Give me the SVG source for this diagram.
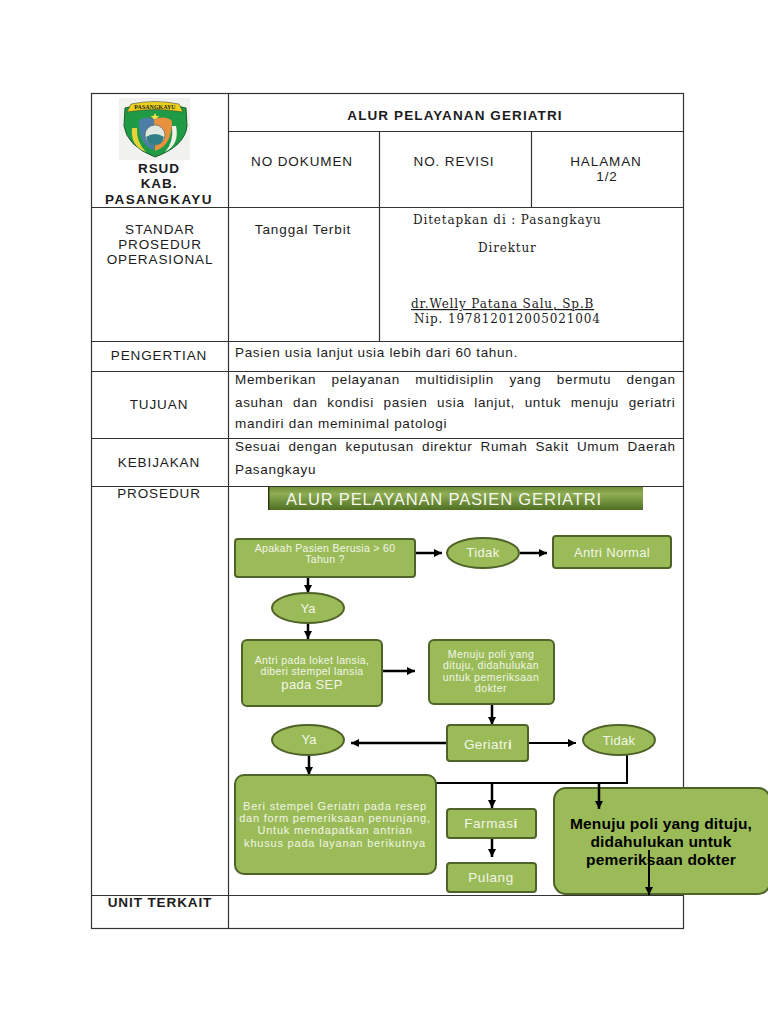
<svg xmlns="http://www.w3.org/2000/svg" width="768" height="1024" viewBox="0 0 768 1024">
<style>
text{font-family:"Liberation Sans",Arial,sans-serif;fill:#1c1c1c}
.t{font-size:13.5px;text-anchor:middle;letter-spacing:.9px}
.l{font-size:13.5px;letter-spacing:.68px}
.b{font-weight:bold}
.s{font-family:"DejaVu Serif",serif;font-size:12px;letter-spacing:.85px}
.g{fill:#9bbb59;stroke:#4f6228;stroke-width:2}
.w{fill:#f2f6e6;text-anchor:middle}
.ln{stroke:#333;stroke-width:1.2;fill:none}
.c{stroke:#000;stroke-width:2.5;fill:none}
</style>
<defs>
<marker id="a" markerUnits="userSpaceOnUse" markerWidth="9" markerHeight="9" refX="8" refY="4" orient="auto"><path d="M0 0L8 4L0 8z" fill="#000"/></marker>
<linearGradient id="h" x1="0" y1="0" x2="0" y2="1"><stop offset="0" stop-color="#6f8f35"/><stop offset=".3" stop-color="#8fae55"/><stop offset="1" stop-color="#4f6f22"/></linearGradient>
</defs>
<rect width="768" height="1024" fill="#fff"/>
<g id="table">
<rect class="ln" x="91.500" y="93.500" width="592" height="835"/>
<path class="ln" d="M228.500 93.500V928.500M228.500 131.500H683.500M91.500 207.500H683.500M379.500 131.500V341.500M531.500 131.500V207.500M91.500 341.500H683.500M91.500 371.500H683.500M91.500 438.500H683.500M91.500 486.500H683.500M91.500 895.500H683.500"/>
</g>
<g id="logo">
<rect x="119" y="98" width="71" height="62" fill="#f1f1ef"/>
<path d="M125 108Q155 100 186 108L187 126Q185 146 155 157Q127 146 124 126Z" fill="#1f9a45" stroke="#1a5c2a"/>
<path d="M131 104Q155 99 179 104L183 112Q155 107 127 112Z" fill="#ecd21e" stroke="#333" stroke-width=".5"/>
<path d="M155 113l1.500 3h3l-2.500 2l1 3l-3-2l-3 2l1-3l-2.500-2h3z" fill="#f2e34a"/>
<path d="M139 121Q145 115 154 119L154 150Q139 146 139 121Z" fill="#4d7ea8"/>
<path d="M154 119Q166 115 172 121Q172 146 155 151Z" fill="#e8913f"/>
<circle cx="155" cy="135" r="10" fill="#dfe9e0" stroke="#555" stroke-width=".6"/>
<path d="M146 137Q155 131 164 137Q162 145 155 145Q148 145 146 137Z" fill="#2f7f86"/>
<path d="M132 128Q130 146 146 152Q136 142 137 128Z" fill="#e8d23a"/>
<path d="M176 126Q180 144 165 152Q174 142 172 126Z" fill="#f1f1e8"/>
<text x="155" y="109" style="font-size:6px;font-weight:bold;text-anchor:middle;font-family:'Liberation Serif',serif">PASANGKAYU</text>
</g>
<g id="header">
<text class="t b" x="159" y="173">RSUD</text>
<text class="t b" x="159" y="188">KAB.</text>
<text class="t b" x="159" y="204" style="letter-spacing:1.4px">PASANGKAYU</text>
<text class="t b" x="455" y="120" style="letter-spacing:1.1px">ALUR PELAYANAN GERIATRI</text>
<text class="t" x="302" y="166">NO DOKUMEN</text>
<text class="t" x="454" y="166">NO. REVISI</text>
<text class="t" x="606" y="166">HALAMAN</text>
<text class="t" x="607" y="181">1/2</text>
<text class="t" x="160" y="234">STANDAR</text>
<text class="t" x="160" y="249">PROSEDUR</text>
<text class="t" x="160" y="264">OPERASIONAL</text>
<text class="t" x="303" y="234">Tanggal Terbit</text>
<text class="s" x="413" y="224">Ditetapkan di : Pasangkayu</text>
<text class="s" x="478" y="252">Direktur</text>
<text class="s" x="411" y="308" text-decoration="underline">dr.Welly Patana Salu, Sp.B</text>
<text class="s" x="414" y="323">Nip. 197812012005021004</text>
<text class="t" x="159" y="360">PENGERTIAN</text>
<text class="t" x="159" y="409">TUJUAN</text>
<text class="t" x="159" y="467">KEBIJAKAN</text>
<text class="t" x="159" y="498">PROSEDUR</text>
<text class="t b" x="160" y="907">UNIT TERKAIT</text>
<text class="l" x="235" y="357">Pasien usia lanjut usia lebih dari 60 tahun.</text>
<text class="l" x="235" y="383.500" style="word-spacing:11px">Memberikan pelayanan multidisiplin yang bermutu dengan</text>
<text class="l" x="235" y="406.500" style="word-spacing:5.200px">asuhan dan kondisi pasien usia lanjut, untuk menuju geriatri</text>
<text class="l" x="235" y="428" style="letter-spacing:.72px">mandiri dan meminimal patologi</text>
<text class="l" x="235" y="451" style="word-spacing:3.600px">Sesuai dengan keputusan direktur Rumah Sakit Umum Daerah</text>
<text class="l" x="235" y="474">Pasangkayu</text>
</g>
<g id="title">
<rect x="268" y="487" width="375" height="23" fill="url(#h)"/>
<rect x="268" y="487" width="1.500" height="23" fill="#2c3a14"/>
<text x="286" y="504.500" style="font-size:16.500px;fill:#f6f8ee;letter-spacing:.85px">ALUR PELAYANAN PASIEN GERIATRI</text>
</g>
<g id="connectors">
<path class="c" marker-end="url(#a)" d="M415 553H442"/>
<path class="c" marker-end="url(#a)" d="M520 553H547"/>
<path class="c" marker-end="url(#a)" d="M308 574V593"/>
<path class="c" marker-end="url(#a)" d="M308 623V639"/>
<path class="c" marker-end="url(#a)" d="M382 671H415"/>
<path class="c" marker-end="url(#a)" d="M492 704V725"/>
<path class="c" marker-end="url(#a)" d="M446 743H351"/>
<path class="c" marker-end="url(#a)" d="M528 743H576" style="stroke-width:2"/>
<path class="c" marker-end="url(#a)" d="M309 755V775"/>
<path class="c" d="M435 783H627V755" style="stroke-width:2"/>
<path class="c" marker-end="url(#a)" d="M492 784V808"/>
<path class="c" marker-end="url(#a)" d="M492 838V857"/>
</g>
<g id="n1"><rect class="g" x="235" y="539" width="180" height="38" rx="3"/><text class="w" style="font-size:10.500px;letter-spacing:.3px"><tspan x="325" y="552">Apakah Pasien Berusia &gt; 60</tspan><tspan x="325" y="563">Tahun ?</tspan></text></g>
<g id="n2"><ellipse class="g" cx="483" cy="553" rx="36" ry="15"/><text class="w" x="483" y="557" style="font-size:13px;letter-spacing:.4px">Tidak</text></g>
<g id="n3"><rect class="g" x="553" y="536" width="118" height="32" rx="3"/><text class="w" x="612" y="557" style="font-size:13px;letter-spacing:.3px">Antri Normal</text></g>
<g id="n4"><ellipse class="g" cx="308" cy="608" rx="36" ry="15"/><text class="w" x="308" y="613" style="font-size:13px">Ya</text></g>
<g id="n5"><rect class="g" x="242" y="640" width="140" height="66" rx="5"/><text class="w" style="font-size:10.500px;letter-spacing:.35px"><tspan x="312" y="664">Antri pada loket lansia,</tspan><tspan x="312" y="675">diberi stempel lansia</tspan><tspan x="312" y="689" style="font-size:13px">pada SEP</tspan></text></g>
<g id="n6"><rect class="g" x="429" y="640" width="125" height="64" rx="5"/><text class="w" style="font-size:10.500px;letter-spacing:.45px"><tspan x="491" y="658">Menuju poli yang</tspan><tspan x="491" y="669">dituju, didahulukan</tspan><tspan x="491" y="681">untuk pemeriksaan</tspan><tspan x="491" y="692">dokter</tspan></text></g>
<g id="n7"><ellipse class="g" cx="308" cy="740" rx="36" ry="15"/><text class="w" x="309" y="744" style="font-size:13px">Ya</text></g>
<g id="n8"><rect class="g" x="447" y="725" width="81" height="36" rx="3"/><text class="w" x="488" y="749" style="font-size:13.500px;letter-spacing:.4px">Geriatr<tspan font-weight="bold">i</tspan></text></g>
<g id="n9"><ellipse class="g" cx="619" cy="740" rx="36" ry="15"/><text class="w" x="619" y="745" style="font-size:13px;letter-spacing:.3px">Tidak</text></g>
<g id="n10"><rect class="g" x="235" y="775" width="201" height="99" rx="9"/><text class="w" style="font-size:11px;letter-spacing:.8px"><tspan x="335" y="810">Beri stempel Geriatri pada resep</tspan><tspan x="335" y="822">dan form pemeriksaan penunjang,</tspan><tspan x="335" y="834">Untuk mendapatkan antrian</tspan><tspan x="335" y="847">khusus pada layanan berikutnya</tspan></text></g>
<g id="n11"><rect class="g" x="447" y="809" width="89" height="29" rx="3"/><text class="w" x="491" y="828" style="font-size:13.500px;letter-spacing:.6px">Farmas<tspan font-weight="bold">i</tspan></text></g>
<g id="n12"><rect class="g" x="447" y="863" width="89" height="29" rx="3"/><text class="w" x="491" y="882" style="font-size:13.500px;letter-spacing:.6px">Pulang</text></g>
<g id="n13"><rect class="g" x="554" y="788" width="216" height="106" rx="12"/><text style="font-size:15.500px;font-weight:bold;fill:#000;text-anchor:middle;letter-spacing:.2px"><tspan x="661" y="829">Menuju poli yang dituju,</tspan><tspan x="661" y="847">didahulukan untuk</tspan><tspan x="661" y="865">pemeriksaan dokter</tspan></text></g>
<g id="connectors2">
<path class="c" marker-end="url(#a)" d="M599 784V809"/>
<path class="c" marker-end="url(#a)" d="M649 850V895" style="stroke-width:2"/>
</g>
</svg>
